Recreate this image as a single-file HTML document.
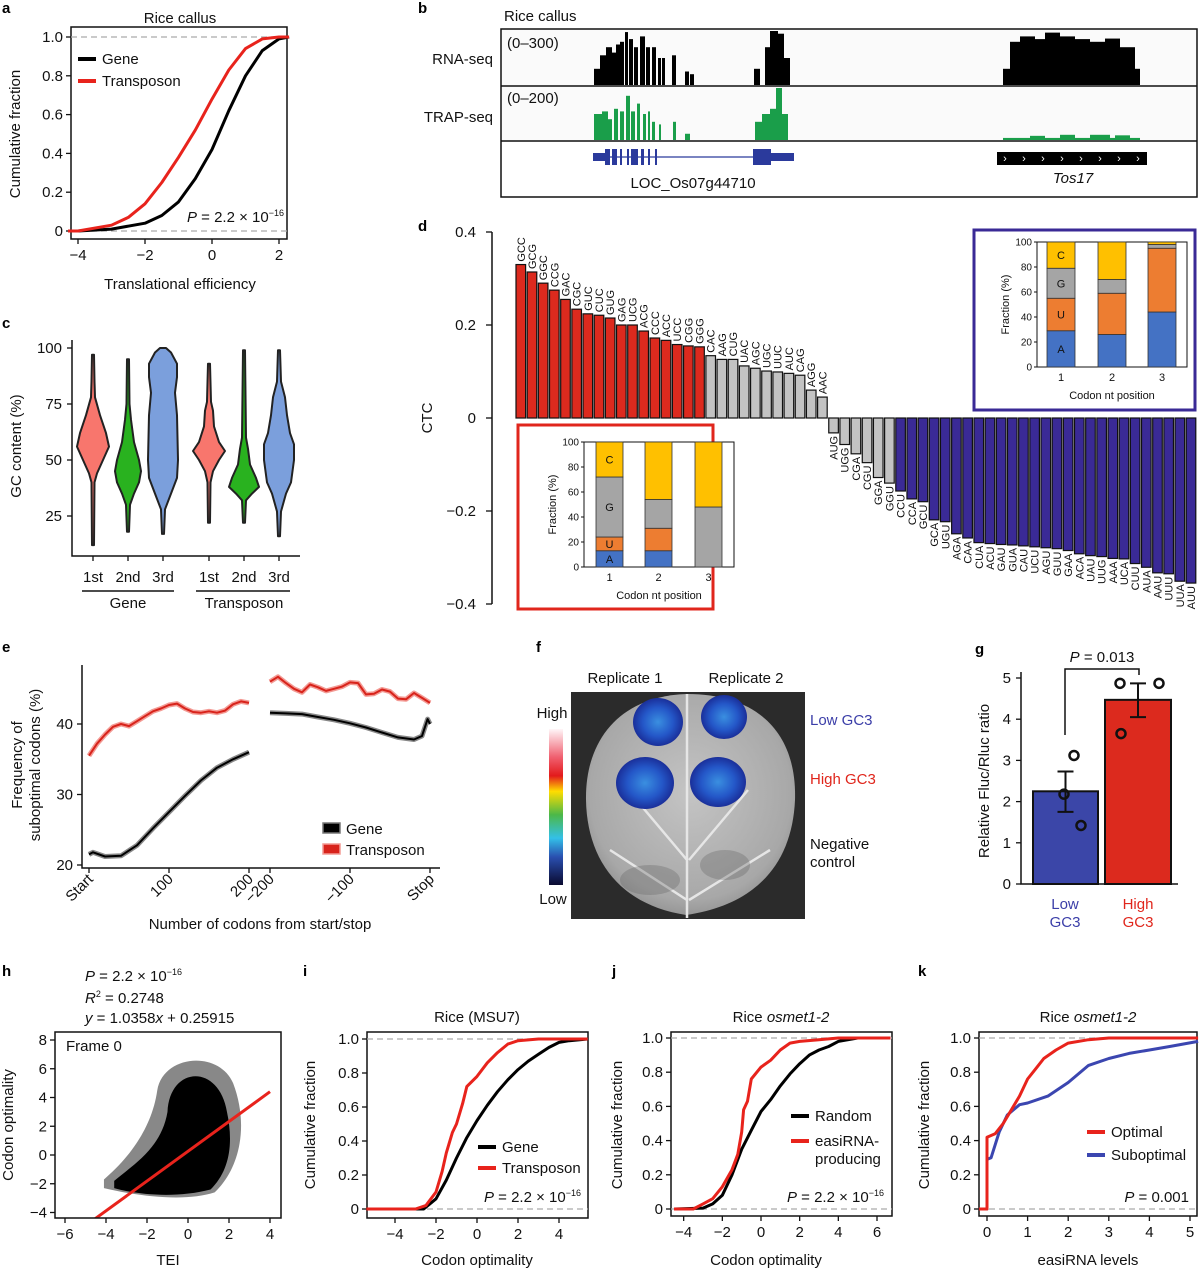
<!DOCTYPE html>
<html><head><meta charset="utf-8">
<style>
html,body{margin:0;padding:0;background:#fff;}
svg{display:block;font-family:"Liberation Sans",Arial,sans-serif;}
.t{font-size:15px;fill:#111;}
.s{font-size:13px;fill:#111;}
.L{font-size:15px;font-weight:bold;fill:#000;}
.cod{font-size:11px;fill:#111;}
</style></head>
<body>
<svg id="fig" width="1200" height="1269" viewBox="0 0 1200 1269" xmlns="http://www.w3.org/2000/svg">
<defs>
<linearGradient id="cbar" x1="0" y1="0" x2="0" y2="1">
<stop offset="0" stop-color="#fff6f8"/><stop offset="0.18" stop-color="#f06070"/><stop offset="0.3" stop-color="#e31a1c"/><stop offset="0.4" stop-color="#ffdd00"/><stop offset="0.55" stop-color="#4cb848"/><stop offset="0.7" stop-color="#33c0e8"/><stop offset="0.82" stop-color="#2a4fb0"/><stop offset="1" stop-color="#0a0a30"/>
</linearGradient>
<radialGradient id="blob" cx="0.5" cy="0.5" r="0.5">
<stop offset="0" stop-color="#3a8fe0"/><stop offset="0.6" stop-color="#2457c8"/><stop offset="1" stop-color="#1a2f9a"/>
</radialGradient>
<radialGradient id="leafg" cx="0.5" cy="0.45" r="0.6">
<stop offset="0" stop-color="#c4c4c4"/><stop offset="0.8" stop-color="#a8a8a8"/><stop offset="1" stop-color="#8a8a8a"/>
</radialGradient>
</defs>

<g id="dyn"></g>

<!-- panel letters -->
<text class="L" x="2" y="13">a</text>
<text class="L" x="418" y="13">b</text>
<text class="L" x="2" y="328">c</text>
<text class="L" x="418" y="231">d</text>
<text class="L" x="2" y="652">e</text>
<text class="L" x="536" y="652">f</text>
<text class="L" x="975" y="654">g</text>
<text class="L" x="2" y="976">h</text>
<text class="L" x="303" y="976">i</text>
<text class="L" x="612" y="976">j</text>
<text class="L" x="918" y="976">k</text>

<!-- static texts -->
<text class="t" x="180" y="23" text-anchor="middle">Rice callus</text>
<text class="t" x="180" y="289" text-anchor="middle">Translational efficiency</text>
<text class="t" transform="translate(20,134) rotate(-90)" text-anchor="middle">Cumulative fraction</text>
<text class="t" x="284" y="222" text-anchor="end"><tspan font-style="italic">P</tspan> = 2.2 × 10<tspan dy="-6" font-size="9">−16</tspan></text>

<text class="t" x="504" y="21">Rice callus</text>
<text class="t" x="493" y="64" text-anchor="end">RNA-seq</text>
<text class="t" x="493" y="122" text-anchor="end">TRAP-seq</text>
<text class="t" x="507" y="48">(0–300)</text>
<text class="t" x="507" y="103">(0–200)</text>
<text class="t" x="693" y="188" text-anchor="middle">LOC_Os07g44710</text>
<text class="t" x="1073" y="183" text-anchor="middle" font-style="italic">Tos17</text>

<text class="t" transform="translate(21,446) rotate(-90)" text-anchor="middle">GC content (%)</text>
<text class="t" x="128" y="608" text-anchor="middle">Gene</text>
<text class="t" x="244" y="608" text-anchor="middle">Transposon</text>
<line x1="82" y1="591" x2="174" y2="591" stroke="#111" stroke-width="1.5"/>
<line x1="196" y1="591" x2="290" y2="591" stroke="#111" stroke-width="1.5"/>

<text class="t" transform="translate(432,418) rotate(-90)" text-anchor="middle">CTC</text>

<text class="t" transform="translate(22,765) rotate(-90)" text-anchor="middle">Frequency of</text>
<text class="t" transform="translate(40,765) rotate(-90)" text-anchor="middle">suboptimal codons (%)</text>
<text class="t" x="260" y="929" text-anchor="middle">Number of codons from start/stop</text>

<text class="t" x="625" y="683" text-anchor="middle">Replicate 1</text>
<text class="t" x="746" y="683" text-anchor="middle">Replicate 2</text>
<text class="t" x="552" y="718" text-anchor="middle">High</text>
<text class="t" x="553" y="904" text-anchor="middle">Low</text>
<text class="t" x="810" y="725" style="fill:#3b3ea8">Low GC3</text>
<text class="t" x="810" y="784" style="fill:#e0261c">High GC3</text>
<text class="t" x="810" y="849">Negative</text>
<text class="t" x="810" y="867">control</text>

<text class="t" transform="translate(989,781) rotate(-90)" text-anchor="middle">Relative Fluc/Rluc ratio</text>
<text class="t" x="1065" y="909" text-anchor="middle" style="fill:#3b3ea8">Low</text>
<text class="t" x="1065" y="927" text-anchor="middle" style="fill:#3b3ea8">GC3</text>
<text class="t" x="1138" y="909" text-anchor="middle" style="fill:#e0261c">High</text>
<text class="t" x="1138" y="927" text-anchor="middle" style="fill:#e0261c">GC3</text>
<text class="t" x="1102" y="662" text-anchor="middle"><tspan font-style="italic">P</tspan> = 0.013</text>

<text class="t" x="85" y="981"><tspan font-style="italic">P</tspan> = 2.2 × 10<tspan dy="-6" font-size="9">−16</tspan></text>
<text class="t" x="85" y="1003"><tspan font-style="italic">R</tspan><tspan dy="-6" font-size="9">2</tspan><tspan dy="6"> = 0.2748</tspan></text>
<text class="t" x="85" y="1023"><tspan font-style="italic">y</tspan> = 1.0358<tspan font-style="italic">x</tspan> + 0.25915</text>
<text class="t" x="66" y="1051">Frame 0</text>
<text class="t" x="168" y="1265" text-anchor="middle">TEI</text>
<text class="t" transform="translate(13,1125) rotate(-90)" text-anchor="middle">Codon optimality</text>

<text class="t" x="477" y="1022" text-anchor="middle">Rice (MSU7)</text>
<text class="t" x="477" y="1265" text-anchor="middle">Codon optimality</text>
<text class="t" transform="translate(315,1125) rotate(-90)" text-anchor="middle">Cumulative fraction</text>
<text class="t" x="581" y="1202" text-anchor="end"><tspan font-style="italic">P</tspan> = 2.2 × 10<tspan dy="-6" font-size="9">−16</tspan></text>

<text class="t" x="781" y="1022" text-anchor="middle">Rice <tspan font-style="italic">osmet1-2</tspan></text>
<text class="t" x="766" y="1265" text-anchor="middle">Codon optimality</text>
<text class="t" transform="translate(622,1125) rotate(-90)" text-anchor="middle">Cumulative fraction</text>
<text class="t" x="884" y="1202" text-anchor="end"><tspan font-style="italic">P</tspan> = 2.2 × 10<tspan dy="-6" font-size="9">−16</tspan></text>

<text class="t" x="1088" y="1022" text-anchor="middle">Rice <tspan font-style="italic">osmet1-2</tspan></text>
<text class="t" x="1088" y="1265" text-anchor="middle">easiRNA levels</text>
<text class="t" transform="translate(929,1125) rotate(-90)" text-anchor="middle">Cumulative fraction</text>
<text class="t" x="1189" y="1202" text-anchor="end"><tspan font-style="italic">P</tspan> = 0.001</text>
</svg>

<script>
// ===== Panel a data =====
const aGeneX = [-4.3,-4,-3,-2,-1.5,-1,-0.5,0,0.5,1,1.5,2,2.3];
const aGeneY = [0,0,0.01,0.04,0.08,0.15,0.27,0.42,0.62,0.8,0.93,0.99,1];
const aTransX = [-4.3,-4,-3,-2.5,-2,-1.5,-1,-0.5,0,0.5,1,1.5,2,2.3];
const aTransY = [0,0,0.03,0.07,0.14,0.25,0.38,0.52,0.68,0.83,0.94,0.99,1,1];
// ===== Panel c data (GC %, half-width px) =====
const violinGroups = ['g1','g2','g3','t1','t2','t3'];
const violinLabels = ['1st','2nd','3rd','1st','2nd','3rd'];
const vG1 = [[12,1],[40,1.5],[44,4],[50,10],[56,16],[62,13],[70,7],[78,2],[85,1.5],[97,1]];
const vG2 = [[18,1],[30,2],[35,6],[40,11],[45,13],[50,11],[58,6],[68,3],[75,1.5],[95,1]];
const vG3 = [[17,1],[28,2],[35,8],[42,14],[50,15],[70,14],[80,12],[87,14],[93,14],[98,8],[100,3]];
const vT1 = [[22,1],[40,1.5],[45,4],[50,10],[54,16],[58,10],[65,5],[72,4],[76,2],[93,1]];
const vT2 = [[22,1],[32,2],[35,8],[38,15],[42,12],[48,6],[55,4],[60,2],[99,1]];
const vT3 = [[16,1],[27,2],[35,7],[40,12],[50,15],[57,15],[62,11],[70,8],[78,6],[85,2],[99,1]];
const cTicks = [25,50,75,100];
// ===== Panel d data =====
const codons = ['GCC','GCG','GGC','CCG','GAC','CGC','GUC','CUC','GUG','GAG','UCG','ACG','CCC','ACC','UCC','CGG','GGG','CAC','AAG','CUG','UAC','AGC','UGC','UUC','AUC','CAG','AGG','AAC','AUG','UGG','CGA','CGU','GGA','GGU','CCU','CCA','GCU','GCA','UGU','AGA','CAA','CUA','ACU','GAU','GUA','CAU','UCU','AGU','GUU','GAA','ACA','UAU','UUG','AAA','UCA','CUU','AUA','AAU','UUU','UUA','AUU'];
const ctc = [0.33,0.314,0.29,0.275,0.255,0.234,0.224,0.221,0.215,0.2,0.2,0.187,0.172,0.167,0.158,0.155,0.153,0.134,0.126,0.126,0.112,0.107,0.101,0.099,0.096,0.092,0.06,0.045,-0.032,-0.057,-0.077,-0.096,-0.128,-0.14,-0.157,-0.174,-0.18,-0.219,-0.223,-0.249,-0.258,-0.268,-0.27,-0.272,-0.273,-0.275,-0.277,-0.279,-0.281,-0.285,-0.292,-0.296,-0.298,-0.302,-0.303,-0.313,-0.321,-0.333,-0.335,-0.351,-0.355];
const ctcClass = ['r','r','r','r','r','r','r','r','r','r','r','r','r','r','r','r','r','g','g','g','g','g','g','g','g','g','g','g','g','g','g','g','g','g','b','b','b','b','b','b','b','b','b','b','b','b','b','b','b','b','b','b','b','b','b','b','b','b','b','b','b'];
const dTicks = [-0.4,-0.2,0,0.2,0.4];
const ntLetters = ['A','U','G','C'];
const optA = [29,26,44], optU = [26,33,51], optG = [24,11,3], optC = [21,30,2];
const subA = [13,13,0], subU = [11,18,0], subG = [48,23,48], subC = [28,46,52];
// ===== Panel e data =====
const eGeneLPos = [0,5,20,40,60,80,100,120,140,160,180,200];
const eGeneL = [21.5,21.8,21.2,21.3,22.8,25.2,27.5,29.8,32,33.8,35,36];
const eGeneRPos = [-200,-180,-160,-140,-120,-100,-80,-60,-40,-20,-10,-3,0];
const eGeneR = [41.6,41.5,41.4,41.0,40.6,40.1,39.5,38.8,38.1,37.8,38.3,40.7,40];
const eTransLPos = [0,10,20,30,40,50,60,70,80,90,100,110,120,130,140,150,160,170,180,190,200];
const eTransL = [35.5,37.2,38.5,39.6,40.0,39.7,40.4,41.1,41.8,42.2,42.7,42.9,42.2,41.7,41.6,41.8,41.6,41.9,42.8,43.2,43.0];
const eTransRPos = [-200,-190,-180,-170,-160,-150,-140,-130,-120,-110,-100,-90,-80,-70,-60,-50,-40,-30,-20,-10,0];
const eTransR = [46,46.7,45.8,45.0,44.5,45.6,45.2,44.7,45.0,45.3,45.9,45.8,44.2,44.3,44.9,44.6,43.6,43.5,44.4,43.7,43.0];
// ===== Panel g data =====
const gCats = ['Low GC3','High GC3'];
const gMeans = [2.25,4.47];
const gErrLo = [1.75,4.05];
const gErrHi = [2.73,4.87];
const gPtsLow = [3.12,2.18,1.42];
const gPtsHigh = [4.87,4.87,3.65];
// ===== Panel h data =====
const hSlope = 1.0358, hIntercept = 0.25915;
const hTicksX = [-6,-4,-2,0,2,4], hTicksY = [-4,-2,0,2,4,6,8];
// ===== Panel i data =====
const iGeneX = [-5.4,-2.6,-2,-1.5,-1,-0.5,0,0.5,1,1.5,2,2.5,3,3.5,4,4.5,5.4];
const iGeneY = [0,0,0.06,0.17,0.3,0.42,0.52,0.61,0.69,0.76,0.82,0.87,0.91,0.95,0.98,0.99,1];
const iTransX = [-5.4,-3,-2.5,-2,-1.7,-1.5,-1.2,-1,-0.7,-0.5,0,0.5,1,1.5,2,3,5.4];
const iTransY = [0,0,0.02,0.1,0.22,0.33,0.45,0.5,0.62,0.72,0.78,0.86,0.92,0.97,0.99,1,1];
// ===== Panel j data =====
const jRandX = [-4.5,-3,-2.5,-2,-1.5,-1,-0.5,0,0.5,1,1.5,2,2.5,3,3.5,4,5,6.7];
const jRandY = [0,0.005,0.03,0.08,0.2,0.35,0.46,0.57,0.64,0.72,0.79,0.85,0.9,0.93,0.95,0.98,1,1];
const jEasiX = [-4.5,-3.5,-3,-2.5,-2,-1.5,-1.2,-1,-0.9,-0.7,-0.5,0,0.5,1,1.5,2,3,4,6.7];
const jEasiY = [0,0,0.03,0.06,0.13,0.23,0.32,0.45,0.58,0.63,0.76,0.83,0.87,0.93,0.97,0.98,0.99,1,1];
// ===== Panel k data =====
const kOptX = [-0.2,0,0,0.2,0.4,0.6,0.8,1,1.2,1.4,1.7,2,2.5,3,5.2];
const kOptY = [0,0,0.42,0.44,0.5,0.58,0.66,0.76,0.82,0.88,0.93,0.97,0.99,1,1];
const kSubX = [-0.2,0,0,0.1,0.3,0.5,0.8,1,1.5,2,2.5,3,3.5,4,4.5,5.2];
const kSubY = [0,0,0.29,0.3,0.45,0.55,0.61,0.62,0.66,0.74,0.84,0.88,0.91,0.93,0.95,0.98];
const cdfTicksY = [0,0.2,0.4,0.6,0.8,1.0];

const NS = 'http://www.w3.org/2000/svg';
const root = document.getElementById('dyn');
function mk(tag, attrs, parent) {
  const el = document.createElementNS(NS, tag);
  for (const k in attrs) el.setAttribute(k, attrs[k]);
  (parent || root).appendChild(el);
  return el;
}
function txt(x, y, s, cls, anchor, parent) {
  const el = mk('text', {x: x, y: y, class: cls || 't', 'text-anchor': anchor || 'middle'}, parent);
  el.textContent = s;
  return el;
}
function lin(dmin, dmax, pmin, pmax) { return v => pmin + (v - dmin) / (dmax - dmin) * (pmax - pmin); }
function fmt(v) { return (v < 0 ? '−' : '') + Math.abs(v); }

function cdfPanel(name, box, sx, sy, xt, seriesList) {
  const fr = mk('rect', {x: box[0], y: box[1], width: box[2]-box[0], height: box[3]-box[1], fill: 'none', stroke: '#111', 'stroke-width': 1.5});
  
  
  [0, 1].forEach(v => {
    const d = mk('line', {x1: box[0], x2: box[2], y1: sy(v), y2: sy(v), stroke: '#aaa', 'stroke-dasharray': '6,4', 'stroke-width': 1.2});
    
    
  });
  cdfTicksY.forEach(v => {
    const tk = mk('line', {x1: box[0]-5, x2: box[0], y1: sy(v), y2: sy(v), stroke: '#111', 'stroke-width': 1.3});
    
    
    const tl = txt(box[0]-8, sy(v)+5, v === 0 ? '0' : v.toFixed(1), 't', 'end');
    
    
  });
  xt.forEach(v => {
    const tk = mk('line', {x1: sx(v), x2: sx(v), y1: box[3], y2: box[3]+5, stroke: '#111', 'stroke-width': 1.3});
    
    
    const tl = txt(sx(v), box[3]+21, fmt(v), 't', 'middle');
    
    
  });
  seriesList.forEach(s => {
    const pts = s.x.map((v, i) => sx(v).toFixed(1) + ',' + sy(s.y[i]).toFixed(1)).join(' ');
    const pl = mk('polyline', {points: pts, fill: 'none', stroke: s.c, 'stroke-width': 3, 'stroke-linejoin': 'round'});
    
    
  });
}
function legendEntry(name, x, y, color, label) {
  const ln = mk('line', {x1: x, x2: x+18, y1: y, y2: y, stroke: color, 'stroke-width': 4});
  
  
  const t = txt(x+24, y+5, label, 't', 'start');
  
  
}

// ===== Panel a =====
{
  const box = [71, 27, 287, 239];
  const sx = lin(0, 2, 212, 279), sy = lin(0, 1, 231, 37);
  cdfPanel('panel-a', box, sx, sy, [-4,-2,0,2], [
    {x: aGeneX, y: aGeneY, c: '#000', n: 'gene'},
    {x: aTransX, y: aTransY, c: '#e8231c', n: 'transposon'}]);
  legendEntry('a-legend-gene', 78, 59, '#000', 'Gene');
  legendEntry('a-legend-transposon', 78, 81, '#e8231c', 'Transposon');
}

// ===== Panel b =====
{
  const bx = mk('rect', {x: 501, y: 29, width: 696, height: 168, fill: '#fafafa', stroke: '#111', 'stroke-width': 1.5});
  
  
  const gb = mk('rect', {x: 502, y: 142, width: 694, height: 54, fill: '#fff'});
  
  
  [86, 141].forEach(y => {
    const l = mk('line', {x1: 501, x2: 1197, y1: y, y2: y, stroke: '#111', 'stroke-width': 1.5});
    
    
  });
  const rna = [[594,600,0.3],[600,606,0.55],[606,612,0.7],[612,616,0.6],[616,620,0.75],[620,624,0.8],[625,628,0.98],[629,633,0.85],[634,638,0.7],[640,645,0.9],[646,650,0.7],[652,656,0.7],[658,661,0.5],[662,665,0.5],[672,676,0.55],[685,689,0.25],[690,694,0.2],[754,760,0.3],[765,770,0.7],[770,778,1.0],[778,784,0.95],[784,790,0.5],[1003,1010,0.3],[1010,1020,0.8],[1020,1035,0.9],[1035,1045,0.85],[1045,1060,0.97],[1060,1075,0.9],[1075,1090,0.85],[1090,1105,0.8],[1105,1120,0.86],[1120,1135,0.7],[1135,1140,0.3]];
  const trap = [[594,602,0.5],[602,608,0.55],[608,612,0.4],[614,618,0.6],[620,624,0.55],[626,630,0.85],[631,635,0.55],[637,640,0.7],[643,646,0.5],[648,650,0.55],[652,655,0.35],[659,661,0.3],[673,676,0.35],[685,690,0.12],[755,762,0.35],[762,770,0.5],[770,776,0.6],[776,782,1.0],[782,788,0.5],[1003,1140,0.04],[1030,1045,0.08],[1060,1075,0.1],[1090,1110,0.1],[1115,1130,0.09]];
  rna.forEach(s => {
    const r = mk('rect', {x: s[0], y: 85 - 54*s[2], width: s[1]-s[0], height: 54*s[2], fill: '#000'});
    
    
  });
  trap.forEach(s => {
    const r = mk('rect', {x: s[0], y: 140 - 52*s[2], width: s[1]-s[0], height: 52*s[2], fill: '#1a9e4a'});
    
    
  });
  const il = mk('line', {x1: 593, x2: 794, y1: 157, y2: 157, stroke: '#2b3a9c', 'stroke-width': 1.2});
  
  
  const exons = [[593,605,8],[605,610,16],[612,617,16],[620,622,16],[627,629,16],[631,638,16],[641,644,16],[648,650,16],[655,657,16],[753,771,16],[771,794,8]];
  exons.forEach(e => {
    const r = mk('rect', {x: e[0], y: 157 - e[2]/2, width: e[1]-e[0], height: e[2], fill: '#2b3a9c'});
    
    
  });
  const t17 = mk('rect', {x: 997, y: 152, width: 150, height: 13, fill: '#000'});
  
  
  for (let i = 0; i < 8; i++) {
    const c = txt(1005 + i*19, 162, '›', 's', 'middle');
    c.setAttribute('style', 'fill:#fff;font-size:11px');
    
    
  }
}

// ===== Panel c =====
{
  const sy = lin(25, 100, 516, 348);
  const xs = [93,128,163,209,244,279];
  const profs = [vG1,vG2,vG3,vT1,vT2,vT3];
  const cols = ['#f8766d','#29b21f','#7b9fdc','#f8766d','#29b21f','#7b9fdc'];
  const ax = mk('path', {d: 'M72,340 V556 H300', fill: 'none', stroke: '#111', 'stroke-width': 1.5});
  
  
  cTicks.forEach(v => {
    const tk = mk('line', {x1: 67, x2: 72, y1: sy(v), y2: sy(v), stroke: '#111', 'stroke-width': 1.3});
    
    
    const tl = txt(62, sy(v)+5, String(v), 't', 'end');
    
    
  });
  profs.forEach((p, i) => {
    const cx = xs[i];
    let d = 'M' + cx + ',' + sy(p[0][0]);
    p.forEach(q => { d += ' L' + (cx + q[1]).toFixed(1) + ',' + sy(q[0]).toFixed(1); });
    for (let j = p.length - 1; j >= 0; j--) d += ' L' + (cx - p[j][1]).toFixed(1) + ',' + sy(p[j][0]).toFixed(1);
    d += 'Z';
    const v = mk('path', {d: d, fill: cols[i], stroke: '#222', 'stroke-width': 2, 'stroke-linejoin': 'round'});
    
    
    const tk = mk('line', {x1: cx, x2: cx, y1: 556, y2: 561, stroke: '#111', 'stroke-width': 1.3});
    
    
    const tl = txt(cx, 582, violinLabels[i], 't', 'middle');
    
    
  });
}

// ===== Panel d =====
{
  const sy = lin(0, 0.4, 418, 232);
  const x0 = 516, pitch = 11.17, bw = 9.6;
  const ax = mk('line', {x1: 492, x2: 492, y1: sy(0.4), y2: sy(-0.4), stroke: '#111', 'stroke-width': 1.5});
  
  
  dTicks.forEach(v => {
    const tk = mk('line', {x1: 486, x2: 492, y1: sy(v), y2: sy(v), stroke: '#111', 'stroke-width': 1.3});
    
    
    const tl = txt(476, sy(v)+5, v === 0 ? '0' : fmt(v), 't', 'end');
    
    
  });
  const fills = {r: '#dc2a1e', g: '#c3c3c3', b: '#3a2a96'};
  codons.forEach((c, i) => {
    const v = ctc[i];
    const x = x0 + i*pitch;
    const y = v >= 0 ? sy(v) : sy(0);
    const h = Math.abs(sy(v) - sy(0));
    const r = mk('rect', {x: x, y: y, width: bw, height: h, fill: fills[ctcClass[i]], stroke: '#111', 'stroke-width': 1.2});
    
    
    const lx = x + bw/2 + 4;
    const ly = v >= 0 ? sy(v) - 3 : sy(v) + 3;
    const t = mk('text', {class: 'cod', transform: 'translate(' + lx.toFixed(1) + ',' + ly.toFixed(1) + ') rotate(-90)', 'text-anchor': v >= 0 ? 'start' : 'end'});
    t.textContent = c;
    
    
  });
  const ntCols = ['#4472c4','#ed7d31','#a5a5a5','#ffc000'];
  function inset(name, box, plot, bxs, stk, A, U, G, C) {
    const fr = mk('rect', {x: box[0], y: box[1], width: box[2]-box[0], height: box[3]-box[1], fill: '#fff', stroke: stk, 'stroke-width': 3});
    
    
    const py = lin(0, 100, plot[3], plot[1]);
    const pf = mk('rect', {x: plot[0], y: plot[1], width: plot[2]-plot[0], height: plot[3]-plot[1], fill: 'none', stroke: '#111', 'stroke-width': 1});
    
    
    [0,20,40,60,80,100].forEach(v => {
      const tl = txt(plot[0]-5, py(v)+3.5, String(v), 'cod', 'end');
      tl.setAttribute('style', 'font-size:10px');
      
      
      const tk = mk('line', {x1: plot[0]-3, x2: plot[0], y1: py(v), y2: py(v), stroke: '#111'});
      
      
    });
    const yt = mk('text', {class: 'cod', transform: 'translate(' + (plot[0]-28) + ',' + ((plot[1]+plot[3])/2) + ') rotate(-90)', 'text-anchor': 'middle'});
    yt.textContent = 'Fraction (%)';
    
    
    const xt = txt((plot[0]+plot[2])/2, plot[3]+32, 'Codon nt position', 'cod', 'middle');
    
    
    for (let k = 0; k < 3; k++) {
      let base = 0;
      const vals = [A[k], U[k], G[k], C[k]];
      vals.forEach((v, j) => {
        if (v <= 0) return;
        const r = mk('rect', {x: bxs[k], y: py(base + v), width: bxs[3], height: py(base) - py(base + v), fill: ntCols[j], stroke: '#333', 'stroke-width': 0.8});
        
        
        if (k === 0) {
          const tl = txt(bxs[k] + bxs[3]/2, (py(base) + py(base+v))/2 + 4, ntLetters[j], 'cod', 'middle');
          
          
        }
        base += v;
      });
      const tl = txt(bxs[k] + bxs[3]/2, plot[3]+14, String(k+1), 'cod', 'middle');
      
      
    }
  }
  inset('optimal-inset', [974, 230, 1195, 410], [1037, 242, 1187, 367], [1047, 1098, 1148, 28], '#3a2a96', optA, optU, optG, optC);
  inset('suboptimal-inset', [518, 425, 713, 609], [584, 442, 734, 567], [596, 645, 695, 27], '#e0261c', subA, subU, subG, subC);
}

// ===== Panel e =====
{
  const sy = lin(20, 40, 865, 724);
  const sxL = lin(0, 200, 89, 249), sxR = lin(-200, 0, 270, 430);
  const ax = mk('path', {d: 'M82,665 V868 H440', fill: 'none', stroke: '#111', 'stroke-width': 1.5});
  
  
  [20,30,40].forEach(v => {
    const tk = mk('line', {x1: 77, x2: 82, y1: sy(v), y2: sy(v), stroke: '#111', 'stroke-width': 1.3});
    
    
    const tl = txt(73, sy(v)+5, String(v), 't', 'end');
    
    
  });
  const xt = [[sxL(0),'Start'],[sxL(100),'100'],[sxL(200),'200'],[sxR(-200),'−200'],[sxR(-100),'−100'],[sxR(0),'Stop']];
  xt.forEach(t => {
    const tk = mk('line', {x1: t[0], x2: t[0], y1: 868, y2: 873, stroke: '#111', 'stroke-width': 1.3});
    
    
    const tl = mk('text', {class: 't', transform: 'translate(' + (t[0]+5) + ',880) rotate(-45)', 'text-anchor': 'end'});
    tl.textContent = t[1];
    
    
  });
  function line(xs, ys, sx, color, halo, nm) {
    const pts = xs.map((v, i) => sx(v).toFixed(1) + ',' + sy(ys[i]).toFixed(1)).join(' ');
    const h = mk('polyline', {points: pts, fill: 'none', stroke: halo, 'stroke-width': 5, 'stroke-linejoin': 'round'});
    
    
    const l = mk('polyline', {points: pts, fill: 'none', stroke: color, 'stroke-width': 2, 'stroke-linejoin': 'round'});
    
    
  }
  line(eGeneLPos, eGeneL, sxL, '#000', '#888', 'gene-start');
  line(eGeneRPos, eGeneR, sxR, '#000', '#888', 'gene-stop');
  line(eTransLPos, eTransL, sxL, '#d8231b', '#f39a94', 'transposon-start');
  line(eTransRPos, eTransR, sxR, '#d8231b', '#f39a94', 'transposon-stop');
  const lg1 = mk('rect', {x: 323, y: 823, width: 17, height: 10, fill: '#000', stroke: '#777', 'stroke-width': 1.5});
  
  
  const lt1 = txt(346, 834, 'Gene', 't', 'start');
  
  
  const lg2 = mk('rect', {x: 323, y: 844, width: 17, height: 10, fill: '#d8231b', stroke: '#f39a94', 'stroke-width': 1.5});
  
  
  const lt2 = txt(346, 855, 'Transposon', 't', 'start');
  
  
}

// ===== Panel f =====
{
  const bg = mk('rect', {x: 571, y: 692, width: 234, height: 227, fill: '#2b2b2b'});
  
  
  const leaf = mk('path', {d: 'M687,694 C620,696 585,740 586,800 C587,860 620,905 686,915 C755,905 792,865 795,800 C797,735 760,694 687,694 Z', fill: 'url(#leafg)'});
  
  
  const vein = mk('path', {d: 'M687,694 L687,918 M687,860 L628,790 M689,860 L748,790 M687,900 L610,850 M689,900 L770,850', stroke: '#e6e6e6', 'stroke-width': 2.5, fill: 'none'});
  
  
  const shade = mk('ellipse', {cx: 650, cy: 880, rx: 30, ry: 15, fill: '#666', opacity: 0.35});
  
  
  const shade2 = mk('ellipse', {cx: 725, cy: 865, rx: 25, ry: 15, fill: '#666', opacity: 0.35});
  
  
  const blobs = [[658,722,25,24],[724,717,23,22],[645,783,29,26],[718,782,28,25]];
  blobs.forEach(b => {
    const e = mk('ellipse', {cx: b[0], cy: b[1], rx: b[2], ry: b[3], fill: 'url(#blob)'});
    
    
  });
  const cb = mk('rect', {x: 549, y: 729, width: 14, height: 156, fill: 'url(#cbar)'});
  
  
}

// ===== Panel g =====
{
  const sy = lin(0, 5, 884, 678);
  const xs = [[1033,1098],[1105,1171]];
  const cols = ['#3b46a8','#dc2a1e'];
  const ax = mk('path', {d: 'M1021,672 V884 H1178', fill: 'none', stroke: '#111', 'stroke-width': 1.5});
  
  
  [0,1,2,3,4,5].forEach(v => {
    const tk = mk('line', {x1: 1016, x2: 1021, y1: sy(v), y2: sy(v), stroke: '#111', 'stroke-width': 1.3});
    
    
    const tl = txt(1011, sy(v)+5, String(v), 't', 'end');
    
    
  });
  gMeans.forEach((m, i) => {
    const b = mk('rect', {x: xs[i][0], y: sy(m), width: xs[i][1]-xs[i][0], height: sy(0)-sy(m), fill: cols[i], stroke: '#111', 'stroke-width': 2});
    
    
    const cx = (xs[i][0] + xs[i][1]) / 2;
    const eb = mk('path', {d: 'M' + (cx-8) + ',' + sy(gErrLo[i]) + ' H' + (cx+8) + ' M' + cx + ',' + sy(gErrLo[i]) + ' V' + sy(gErrHi[i]) + ' M' + (cx-8) + ',' + sy(gErrHi[i]) + ' H' + (cx+8), stroke: '#111', 'stroke-width': 2, fill: 'none'});
    
    
  });
  const pxLow = [1074,1064,1081], pxHigh = [1120,1159,1121];
  gPtsLow.forEach((v, i) => {
    const c = mk('circle', {cx: pxLow[i], cy: sy(v), r: 4.5, fill: 'none', stroke: '#111', 'stroke-width': 2.5});
    
    
  });
  gPtsHigh.forEach((v, i) => {
    const c = mk('circle', {cx: pxHigh[i], cy: sy(v), r: 4.5, fill: 'none', stroke: '#111', 'stroke-width': 2.5});
    
    
  });
  const br = mk('path', {d: 'M1065,735 V669 H1139 V675', fill: 'none', stroke: '#111', 'stroke-width': 1.5});
  
  
}

// ===== Panel h =====
{
  const sx = lin(0, 4, 188, 270), sy = lin(0, 8, 1155, 1040);
  const box = [55, 1032, 281, 1218];
  const clip = mk('clipPath', {id: 'hclip'});
  mk('rect', {x: box[0], y: box[1], width: box[2]-box[0], height: box[3]-box[1]}, clip);
  const g = mk('g', {'clip-path': 'url(#hclip)'});
  
  
  const halo = mk('path', {d: 'M' + sx(-4.1) + ',' + sy(-1.7) + ' C' + sx(-3.2) + ',' + sy(-0.6) + ' ' + sx(-1.8) + ',' + sy(1.5) + ' ' + sx(-1.5) + ',' + sy(4.5) + ' C' + sx(-1.2) + ',' + sy(7) + ' ' + sx(1.5) + ',' + sy(7.3) + ' ' + sx(2.2) + ',' + sy(5) + ' C' + sx(3) + ',' + sy(2) + ' ' + sx(2.5) + ',' + sy(-1) + ' ' + sx(1.3) + ',' + sy(-2.6) + ' C' + sx(0) + ',' + sy(-3.2) + ' ' + sx(-2) + ',' + sy(-3) + ' ' + sx(-4.1) + ',' + sy(-2.3) + 'Z', fill: '#555', opacity: 0.7}, g);
  
  
  const core = mk('path', {d: 'M' + sx(-3.6) + ',' + sy(-1.8) + ' C' + sx(-2.6) + ',' + sy(-0.6) + ' ' + sx(-1.3) + ',' + sy(0.5) + ' ' + sx(-1.0) + ',' + sy(3) + ' C' + sx(-0.9) + ',' + sy(6.2) + ' ' + sx(1.5) + ',' + sy(6.4) + ' ' + sx(1.9) + ',' + sy(3) + ' C' + sx(2.2) + ',' + sy(1) + ' ' + sx(2.1) + ',' + sy(-1) + ' ' + sx(1.1) + ',' + sy(-2.4) + ' C' + sx(-0.5) + ',' + sy(-3.0) + ' ' + sx(-2.4) + ',' + sy(-2.8) + ' ' + sx(-3.6) + ',' + sy(-2.3) + 'Z', fill: '#000'}, g);
  
  
  const rl = mk('line', {x1: sx(-4.6), y1: sy(hSlope*-4.6 + hIntercept), x2: sx(4), y2: sy(hSlope*4 + hIntercept), stroke: '#e8231c', 'stroke-width': 3}, g);
  
  
  const fr = mk('rect', {x: box[0], y: box[1], width: box[2]-box[0], height: box[3]-box[1], fill: 'none', stroke: '#111', 'stroke-width': 1.5});
  
  
  hTicksY.forEach(v => {
    const tk = mk('line', {x1: box[0]-5, x2: box[0], y1: sy(v), y2: sy(v), stroke: '#111', 'stroke-width': 1.3});
    
    
    const tl = txt(box[0]-8, sy(v)+5, fmt(v), 't', 'end');
    
    
  });
  hTicksX.forEach(v => {
    const tk = mk('line', {x1: sx(v), x2: sx(v), y1: box[3], y2: box[3]+5, stroke: '#111', 'stroke-width': 1.3});
    
    
    const tl = txt(sx(v), box[3]+21, fmt(v), 't', 'middle');
    
    
  });
}

// ===== Panel i =====
{
  const box = [367, 1032, 588, 1218];
  const sx = lin(0, 4, 477, 559), sy = lin(0, 1, 1209, 1039);
  cdfPanel('panel-i', box, sx, sy, [-4,-2,0,2,4], [
    {x: iGeneX, y: iGeneY, c: '#000', n: 'gene'},
    {x: iTransX, y: iTransY, c: '#e8231c', n: 'transposon'}]);
  legendEntry('i-legend-gene', 478, 1147, '#000', 'Gene');
  legendEntry('i-legend-transposon', 478, 1168, '#e8231c', 'Transposon');
}
// ===== Panel j =====
{
  const box = [671, 1032, 892, 1216];
  const sx = lin(0, 6, 761, 877), sy = lin(0, 1, 1209, 1038);
  cdfPanel('panel-j', box, sx, sy, [-4,-2,0,2,4,6], [
    {x: jRandX, y: jRandY, c: '#000', n: 'random'},
    {x: jEasiX, y: jEasiY, c: '#e8231c', n: 'easirna'}]);
  legendEntry('j-legend-random', 791, 1116, '#000', 'Random');
  legendEntry('j-legend-easirna', 791, 1141, '#e8231c', 'easiRNA-');
  const t = txt(815, 1164, 'producing', 't', 'start');
  
  
}
// ===== Panel k =====
{
  const box = [979, 1032, 1197, 1216];
  const sx = lin(0, 5, 987, 1190), sy = lin(0, 1, 1209, 1038);
  cdfPanel('panel-k', box, sx, sy, [0,1,2,3,4,5], [
    {x: kSubX, y: kSubY, c: '#3b46b0', n: 'suboptimal'},
    {x: kOptX, y: kOptY, c: '#e8231c', n: 'optimal'}]);
  legendEntry('k-legend-optimal', 1087, 1132, '#e8231c', 'Optimal');
  legendEntry('k-legend-suboptimal', 1087, 1155, '#3b46b0', 'Suboptimal');
}
</script>
</body></html>
